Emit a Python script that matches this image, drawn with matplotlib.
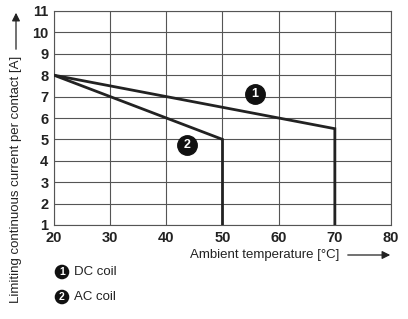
import matplotlib
matplotlib.use("Agg")
import matplotlib.pyplot as plt

plt.rcParams['font.family'] = ['Liberation Sans', 'DejaVu Sans']

dc_x = [20, 70, 70]
dc_y = [8, 5.5, 1]
ac_x = [20, 50, 50]
ac_y = [8, 5, 1]
x_ticks = [20, 30, 40, 50, 60, 70, 80]
y_ticks = [1, 2, 3, 4, 5, 6, 7, 8, 9, 10, 11]
series_labels = ["DC coil", "AC coil"]
marker_pos = [(55.8, 7.12), (43.7, 4.74)]

W, H = 408, 319
fig = plt.figure(figsize=(W/100, H/100), dpi=100)
ax = fig.add_axes([54/W, 1-225/H, (391-54)/W, (225-11)/H])
ax.set_xlim(20, 80)
ax.set_ylim(1, 11)
ax.set_xticks(x_ticks)
ax.set_yticks(y_ticks)
ax.grid(True, color='#555555', linewidth=0.8)
ax.tick_params(length=0, labelsize=10.5, pad=4)
for lab in ax.get_xticklabels() + ax.get_yticklabels():
    lab.set_fontweight('bold')
    lab.set_color('#222222')
for s in ax.spines.values():
    s.set_color('#555555')
    s.set_linewidth(0.8)

ax.plot(dc_x, dc_y, color='#222222', linewidth=2, solid_joinstyle='miter', zorder=3)
ax.plot(ac_x, ac_y, color='#222222', linewidth=2, solid_joinstyle='miter', zorder=3)

for i, (mx, my) in enumerate(marker_pos):
    ax.plot(mx, my, 'o', markersize=14, color='#111111', zorder=4)
    ax.text(mx, my, str(i + 1), color='white', fontsize=9, fontweight='bold',
            ha='center', va='center', zorder=5)

# x label with arrow
fig.text(190/W, 1-255/H, "Ambient temperature [°C]", fontsize=9.5, color='#222222',
         ha='left', va='center')
fig.add_artist(matplotlib.patches.FancyArrowPatch((345/W, 1-255/H), (393/W, 1-255/H),
               transform=fig.transFigure, arrowstyle='-|>', mutation_scale=12,
               color='#222222', linewidth=0.9))
# y label with arrow
fig.text(16/W, 1-179/H, "Limiting continuous current per contact [A]", fontsize=9.5,
         color='#222222', rotation=90, ha='center', va='center')
fig.add_artist(matplotlib.patches.FancyArrowPatch((16/W, 1-52/H), (16/W, 1-10/H),
               transform=fig.transFigure, arrowstyle='-|>', mutation_scale=12,
               color='#222222', linewidth=0.9))

# legend
for i, lab in enumerate(series_labels):
    yy = 1 - (272 + 25*i)/H
    fig.text(62/W, yy, str(i + 1), fontsize=7.5, fontweight='bold', color='white',
             ha='center', va='center',
             bbox=dict(boxstyle='circle,pad=0.22', fc='#111111', ec='none'))
    fig.text(74/W, yy, lab, fontsize=9.5, color='#222222', ha='left', va='center')

fig.savefig("out.png", dpi=100, facecolor='white')
